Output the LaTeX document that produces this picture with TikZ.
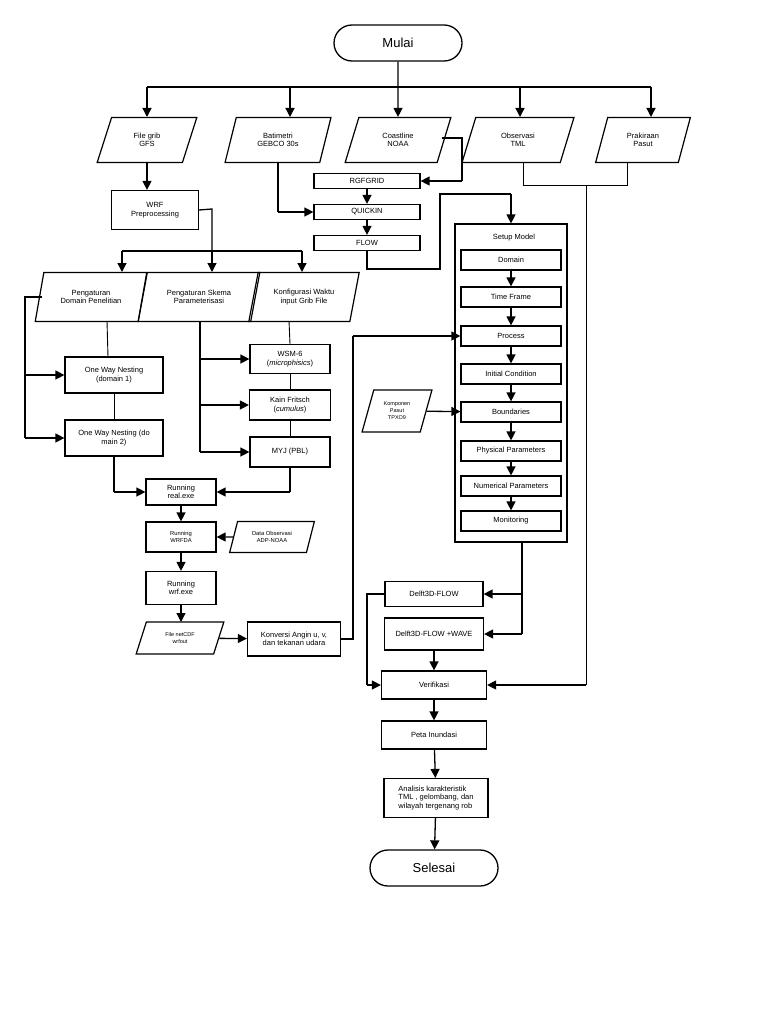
\documentclass[tikz,border=0pt]{standalone}
\usepackage{fontspec}
\setmainfont{Liberation Sans}
\usetikzlibrary{shapes.geometric,arrows.meta,calc}
\begin{document}
\begin{tikzpicture}[x=1pt,y=-1pt,
  ln/.style={line width=1.3pt},
  thin/.style={line width=0.9pt},
  arr/.style={line width=1.3pt,-{Triangle[length=9pt,width=9pt]}},
  box/.style={draw,line width=1.2pt,rectangle,inner sep=1pt,align=center,font=\fontsize{7.5}{8.5}\selectfont},
  para/.style={draw,line width=1.2pt,trapezium,trapezium left angle=70,trapezium right angle=110,trapezium stretches=true,align=center,inner sep=1pt,font=\fontsize{7.5}{8.5}\selectfont},
  term/.style={draw,line width=1.3pt,rounded rectangle,minimum width=128pt,minimum height=36pt,font=\fontsize{13}{14}\selectfont},
]
\useasboundingbox (0,0) rectangle (768,1024);
\tikzset{rounded rectangle/.style={rounded corners=18pt,rectangle}}
% terminals
\node[term] (mulai) at (398,43) {Mulai};
\node[term] (selesai) at (434,868) {Selesai};
% top inputs
\node[para,minimum width=100pt,minimum height=45pt] (grib) at (147,140) {File grib\\GFS};
\node[para,minimum width=106pt,minimum height=45pt] (bat) at (278,140) {Batimetri\\GEBCO 30s};
\node[para,minimum width=106pt,minimum height=45pt] (coast) at (398,140) {Coastline\\NOAA};
\node[para,minimum width=112pt,minimum height=45pt] (obs) at (518,140) {Observasi\\TML};
\node[para,minimum width=95pt,minimum height=45pt] (prak) at (643,140) {Prakiraan\\Pasut};
\draw[ln] (147,87) -- (651,87);
\draw[arr] (mulai.south) -- (coast.north);
\foreach \x/\n in {147/grib,290/bat,520/obs,651/prak} \draw[arr] (\x,87) -- (\x,117);
% Delft grid boxes
\node[box,minimum width=106pt,minimum height=15pt] (rgf) at (367,181) {RGFGRID};
\node[box,minimum width=106pt,minimum height=15pt] (quick) at (367,212) {QUICKIN};
\node[box,minimum width=106pt,minimum height=15pt] (flow) at (367,243) {FLOW};
\draw[ln] (442,138) -- (462,138) -- (462,181);
\draw[arr] (462,181) -- (rgf.east);
\draw[ln] (278,162) -- (278,212);
\draw[arr] (278,212) -- (quick.west);
\draw[arr] (rgf) -- (quick);
\draw[arr] (quick) -- (flow);
% WRF
\node[box,minimum width=87pt,minimum height=39pt] (wrf) at (155,210) {WRF\\Preprocessing};
\draw[arr] (grib.south) -- (wrf.north -| grib.south);
\node[para,minimum width=112pt,minimum height=49pt] (pdom) at (91,297) {Pengaturan\\Domain Penelitian};
\node[para,minimum width=122pt,minimum height=49pt] (pskema) at (199,297) {Pengaturan Skema\\Parameterisasi};
\node[para,minimum width=111pt,minimum height=49pt] (konf) at (304,297) {Konfigurasi Waktu\\input Grib File};
\draw[ln] (wrf.east) -- (212,209) -- (212,251);
\draw[ln] (122,251) -- (302,251);
\draw[arr] (212,251) -- (212,272);
\draw[arr] (122,251) -- (122,272);
\draw[arr] (302,251) -- (302,272);
% nesting
\node[box,minimum width=98pt,minimum height=36pt] (onw1) at (114,375) {One Way Nesting\\(domain 1)};
\node[box,minimum width=98pt,minimum height=36pt] (onw2) at (114,438) {One Way Nesting (do\\main 2)};
\draw[ln] (42,297) -- (25,297) -- (25,438);
\draw[arr] (25,375) -- (onw1.west);
\draw[arr] (25,438) -- (onw2.west);
\draw[thin] (107,321) -- (108,357);
\draw[thin] (onw1.south) -- (onw2.north);
% schemes
\node[box,minimum width=80pt,minimum height=29pt] (wsm) at (290,359) {WSM-6\\(\textit{microphisics})};
\node[box,minimum width=81pt,minimum height=30pt] (kain) at (290,405) {Kain Fritsch\\(\textit{cumulus})};
\node[box,minimum width=80pt,minimum height=30pt] (myj) at (290,452) {MYJ (PBL)};
\draw[ln] (200,321) -- (200,452);
\draw[arr] (200,359) -- (wsm.west);
\draw[arr] (200,405) -- (kain.west);
\draw[arr] (200,452) -- (myj.west);
\draw[thin] (289,321) -- (wsm.north);
\draw[thin] (wsm) -- (kain);
\draw[thin] (kain) -- (myj);
% running
\node[box,minimum width=70pt,minimum height=26pt] (real) at (181,492) {Running\\real.exe};
\node[box,minimum width=70pt,minimum height=30pt,font=\fontsize{5.8}{7}\selectfont] (wrfda) at (181,537) {Running\\WRFDA};
\node[para,minimum width=85pt,minimum height=31pt,font=\fontsize{5.8}{7}\selectfont] (dobs) at (272,537) {Data Observasi\\ADP-NOAA};
\node[box,minimum width=70pt,minimum height=33pt] (wrfexe) at (181,588) {Running\\wrf.exe};
\node[para,minimum width=88pt,minimum height=32pt,font=\fontsize{5.5}{7}\selectfont] (ncdf) at (180,638) {File netCDF\\wrfout};
\node[box,minimum width=93pt,minimum height=34pt] (konv) at (294,639) {Konversi Angin u, v,\\dan tekanan udara};
\draw[ln] (onw2.south) -- (114,492);
\draw[arr] (114,492) -- (real.west);
\draw[ln] (myj.south) -- (290,492);
\draw[arr] (290,492) -- (real.east);
\draw[arr] (real) -- (wrfda);
\draw[arr] (dobs) -- (wrfda);
\draw[arr] (wrfda) -- (wrfexe);
\draw[arr] (wrfexe.south) -- (181,622);
\draw[arr] (ncdf) -- (konv);
% setup model
\node[draw,line width=1.2pt,minimum width=112pt,minimum height=318pt] (setup) at (511,383) {};
\node[font=\fontsize{7.5}{8.5}\selectfont] (stitle) at (514,238) {Setup Model};
\foreach \n/\y/\t in {dom/260/Domain,tf/297/Time Frame,proc/336/Process,ic/374/Initial Condition,bnd/412/Boundaries,phys/451/Physical Parameters,num/486/Numerical Parameters,mon/521/Monitoring}
  \node[box,minimum width=100pt,minimum height=20pt] (\n) at (511,\y) {\t};
\foreach \a/\b in {dom/tf,tf/proc,proc/ic,ic/bnd,bnd/phys,phys/num,num/mon} \draw[arr] (\a) -- (\b);
\draw[ln] (flow.south) -- (367,269) -- (440,269) -- (440,194) -- (511,194);
\draw[arr] (511,194) -- (setup.north);
\node[para,minimum width=70pt,minimum height=42pt,font=\fontsize{5.5}{7}\selectfont] (komp) at (397,411) {Komponen\\Pasut\\TPXO9};
\draw[arr] (komp) -- (bnd);
\draw[ln] (konv.east) -- (353,639) -- (353,336);
\draw[arr] (353,336) -- (proc.west);
% Delft
\node[box,minimum width=98pt,minimum height=25pt] (d3d) at (434,594) {Delft3D-FLOW};
\node[box,minimum width=99pt,minimum height=32pt] (d3dw) at (434,634) {Delft3D-FLOW +WAVE};
\node[box,minimum width=105pt,minimum height=28pt] (ver) at (434,685) {Verifikasi};
\node[box,minimum width=105pt,minimum height=28pt] (peta) at (434,735) {Peta Inundasi};
\node[box,minimum width=104pt,minimum height=39pt,align=left] (anal) at (436,798) {Analisis karakteristik\\TML , gelombang, dan\\wilayah tergenang rob};
\draw[ln] (522,542) -- (522,634);
\draw[arr] (522,594) -- (d3d.east);
\draw[arr] (522,634) -- (d3dw.east);
\draw[arr] (d3dw) -- (ver);
\draw[ln] (d3d.west) -- (367,594) -- (367,685);
\draw[arr] (367,685) -- (ver.west);
\draw[thin] (523,162) -- (523,185) -- (627,185) -- (627,162);
\draw[thin] (586,185) -- (586,685);
\draw[arr] (586,685) -- (ver.east);
\draw[arr] (ver) -- (peta);
\draw[arr] (peta) -- (anal);
\draw[arr] (anal) -- (selesai);
\end{tikzpicture}
\end{document}
